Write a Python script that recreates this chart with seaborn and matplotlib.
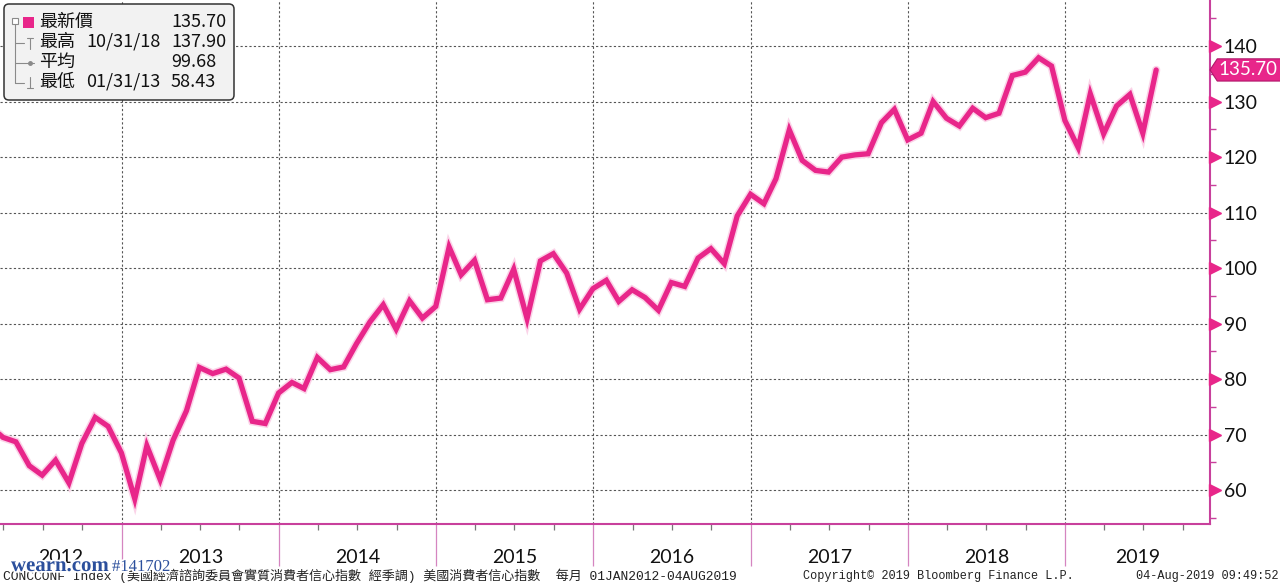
import numpy as np
import pandas as pd
import matplotlib
matplotlib.use("Agg")
import matplotlib.pyplot as plt
import matplotlib.dates as mdates
import matplotlib.patheffects as pe
from matplotlib.patches import Polygon, FancyBboxPatch, Rectangle
import seaborn as sns

# Conference Board consumer confidence, monthly (Feb 2012 - Jul 2019)
vals_2012 = [71.6, 69.5, 68.7, 64.4, 62.7, 65.4, 61.3, 68.4, 73.1, 71.5, 66.7]
vals_2013 = [58.43, 68.0, 61.9, 69.0, 74.3, 82.1, 81.0, 81.8, 80.2, 72.4, 72.0, 77.5]
vals_2014 = [79.4, 78.3, 83.9, 81.7, 82.2, 86.4, 90.3, 93.4, 89.0, 94.1, 91.0, 93.1]
vals_2015 = [103.8, 98.8, 101.4, 94.3, 94.6, 99.8, 90.9, 101.3, 102.6, 99.1, 92.6, 96.3]
vals_2016 = [97.8, 94.0, 96.1, 94.7, 92.4, 97.4, 96.7, 101.8, 103.5, 100.8, 109.4, 113.3]
vals_2017 = [111.6, 116.1, 124.9, 119.4, 117.6, 117.3, 120.0, 120.4, 120.6, 126.2, 128.6, 123.1]
vals_2018 = [124.3, 130.0, 127.0, 125.6, 128.8, 127.1, 127.9, 134.7, 135.3, 137.9, 136.4, 126.6]
vals_2019 = [121.7, 131.4, 124.2, 129.2, 131.3, 124.3, 135.7]

values = vals_2012 + vals_2013 + vals_2014 + vals_2015 + vals_2016 + vals_2017 + vals_2018 + vals_2019
dates = pd.date_range("2012-02-29", periods=len(values), freq="ME")
df = pd.DataFrame({"date": dates, "index": values})

years = [2012, 2013, 2014, 2015, 2016, 2017, 2018, 2019]
y_ticks = [60, 70, 80, 90, 100, 110, 120, 130, 140]
last_value = "135.70"
legend_rows = [("最新價", "", "135.70"), ("最高", "10/31/18", "137.90"),
               ("平均", "", "99.68"), ("最低", "01/31/13", "58.43")]
footer_left = "CONCCONF Index (美國經濟諮詢委員會實質消費者信心指數 經季調) 美國消費者信心指數  每月 01JAN2012-04AUG2019"
footer_mid = "Copyright© 2019 Bloomberg Finance L.P."
footer_right = "04-Aug-2019 09:49:52"

PINK = "#e8268a"
AXIS_PINK = "#c8409c"
SEP_PINK = "#d585c0"

sns.set_style("white")
plt.rcParams["font.family"] = ["Lato", "Noto Sans CJK TC", "DejaVu Sans"]

fig = plt.figure(figsize=(12.8, 5.84), dpi=100)
ax = fig.add_axes([0, 60 / 584, 1210 / 1280, 524 / 584])

sns.lineplot(data=df, x="date", y="index", ax=ax, color=PINK, linewidth=3.8,
             solid_joinstyle="miter", zorder=3,
             path_effects=[pe.Stroke(linewidth=6, foreground="#fbd3e8"), pe.Normal()])

x_left = pd.Timestamp("2012-03-24")
x_right = pd.Timestamp("2019-12-03")
ax.set_xlim(x_left, x_right)
ax.set_ylim(53.9, 148.3)
ax.set_xlabel("")
ax.set_ylabel("")

# spines
for s in ["top", "left"]:
    ax.spines[s].set_visible(False)
ax.spines["right"].set_color(AXIS_PINK)
ax.spines["right"].set_linewidth(1.5)
ax.spines["bottom"].set_color(AXIS_PINK)
ax.spines["bottom"].set_linewidth(1.5)

# x axis: year separators and quarter ticks
ax.xaxis.set_major_locator(mdates.YearLocator())
ax.xaxis.set_minor_locator(mdates.MonthLocator(bymonth=[4, 7, 10]))
ax.xaxis.set_major_formatter(plt.NullFormatter())
ax.tick_params(axis="x", which="both", bottom=True, top=False)
ax.tick_params(axis="x", which="major", direction="out", length=30, width=0.9, color=SEP_PINK)
ax.tick_params(axis="x", which="minor", direction="out", length=4.5, width=0.9, color="#777777")
ax.grid(axis="x", which="major", linestyle=(0, (2, 2)), color="#555555", linewidth=0.8)

for yr in years:
    start = max(pd.Timestamp(f"{yr}-01-01"), x_left)
    end = min(pd.Timestamp(f"{yr + 1}-01-01"), x_right)
    mid = mdates.date2num(start) + (mdates.date2num(end) - mdates.date2num(start)) / 2
    ax.text(mid, -0.063, str(yr), transform=ax.get_xaxis_transform(),
            ha="center", va="center", fontsize=14, color="#111111")

# y axis on the right
ax.yaxis.tick_right()
ax.set_yticks(y_ticks)
ax.set_yticks([v + 5 for v in [50] + y_ticks], minor=True)
ax.tick_params(axis="y", which="both", right=True, left=False)
ax.tick_params(axis="y", which="major", length=0, pad=10, labelsize=14, labelcolor="#111111")
ax.tick_params(axis="y", which="minor", direction="out", length=4, width=1, color=AXIS_PINK)
ax.grid(axis="y", which="major", linestyle=(0, (2, 2)), color="#555555", linewidth=0.8)
ax.plot([1.0045] * len(y_ticks), y_ticks, marker=">", linestyle="none", markersize=8,
        color=PINK, transform=ax.get_yaxis_transform(), clip_on=False, zorder=5)

# last value tag
yv = values[-1]
h = 2.0
tag = Polygon([(1.0, yv), (1.006, yv + h), (1.06, yv + h), (1.06, yv - h), (1.006, yv - h)],
              closed=True, facecolor=PINK, edgecolor="#b0166a", linewidth=0.8,
              transform=ax.get_yaxis_transform(), clip_on=False, zorder=6)
ax.add_patch(tag)
ax.text(1.0315, yv, last_value, transform=ax.get_yaxis_transform(), ha="center",
        va="center", fontsize=13.5, color="white", zorder=7)

# overlay in pixel coordinates for legend box and footer
ov = fig.add_axes([0, 0, 1, 1], zorder=5)
ov.set_xlim(0, 1280)
ov.set_ylim(584, 0)
ov.axis("off")

ov.add_patch(FancyBboxPatch((4, 4), 230, 96, boxstyle="round,pad=0,rounding_size=5",
                            facecolor="#f2f2f2", edgecolor="#333333", linewidth=1.1))
# tree glyphs
g = "#8a8a8a"
ov.add_patch(Rectangle((12, 18), 6, 6, facecolor="white", edgecolor=g, linewidth=0.8))
ov.plot([15, 15], [24, 83], color=g, lw=0.8)
ov.add_patch(Rectangle((23, 17), 11, 11, facecolor=PINK, edgecolor="none"))
ov.plot([15, 24], [43, 43], color=g, lw=0.8)
ov.plot([30, 30], [38, 49], color=g, lw=0.8)
ov.plot([27, 33], [38, 38], color=g, lw=0.8)
ov.plot([15, 34], [63, 63], color=g, lw=0.8)
ov.plot([30], [63], marker="o", ms=2.5, color=g)
ov.plot([15, 24], [83, 83], color=g, lw=0.8)
ov.plot([30, 30], [77, 88], color=g, lw=0.8)
ov.plot([27, 33], [88, 88], color=g, lw=0.8)

lfont = ["Noto Sans CJK TC", "DejaVu Sans"]
for i, (name, date, val) in enumerate(legend_rows):
    yy = 22 + 20 * i
    ov.text(39, yy, name, family=lfont, fontsize=13, va="center", ha="left", color="#111111")
    if date:
        ov.text(86, yy, date, family=lfont, fontsize=13, va="center", ha="left", color="#111111")
    ov.text(171, yy, val, family=lfont, fontsize=13, va="center", ha="left", color="#111111")

ffont = ["Liberation Mono", "Noto Sans CJK TC"]
ov.text(3, 576, footer_left, family=ffont, fontsize=9.4, va="center", ha="left", color="#222222")
ov.text(803, 576, footer_mid, family=ffont, fontsize=8.6, va="center", ha="left", color="#222222")
ov.text(1278, 576, footer_right, family=ffont, fontsize=8.6, va="center", ha="right", color="#222222")

wm = [pe.withStroke(linewidth=2.5, foreground="white")]
ov.text(11, 566, "wearn.com", family="Liberation Serif", fontweight="bold", fontsize=15,
        color="#2b4f9c", va="center", ha="left", path_effects=wm)
ov.text(112, 567, "#141702", family="Liberation Serif", fontsize=12,
        color="#2b4f9c", va="center", ha="left", path_effects=wm)

fig.savefig("out.png", dpi=100)
